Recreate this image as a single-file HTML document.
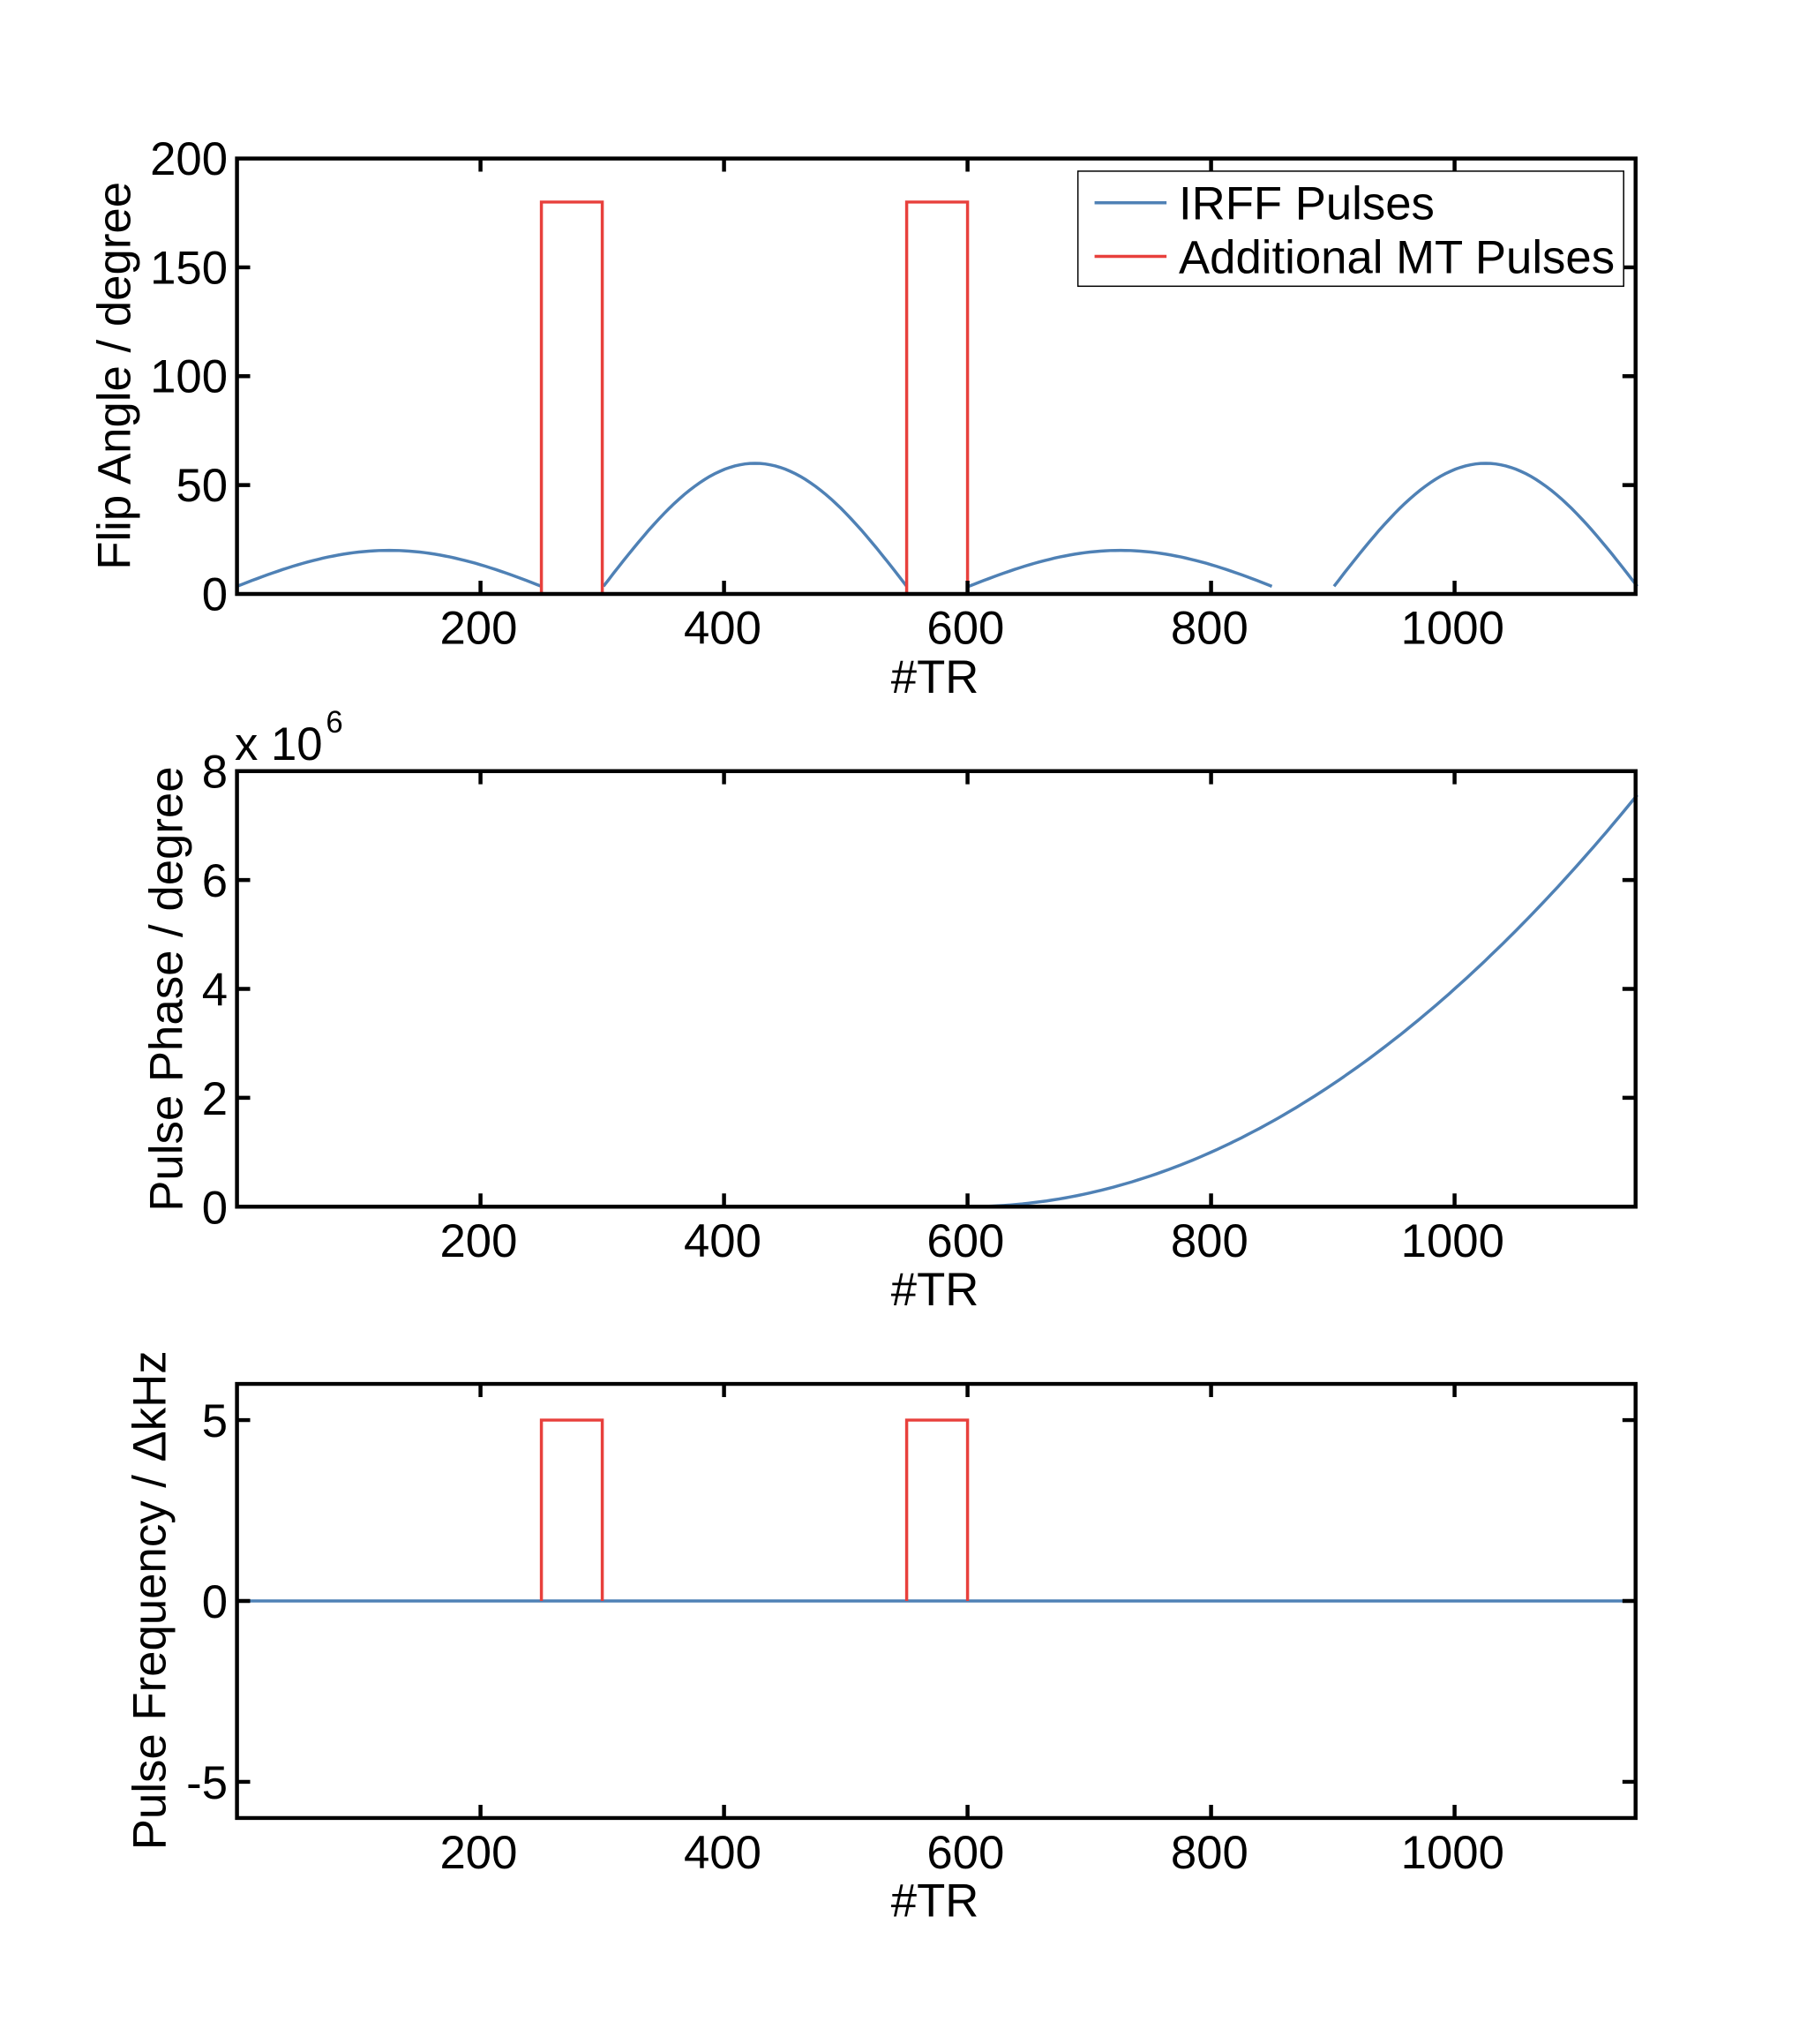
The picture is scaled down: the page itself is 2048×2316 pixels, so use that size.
<!DOCTYPE html>
<html><head><meta charset="utf-8"><style>
html,body{margin:0;padding:0;background:#fff}
svg{display:block}
text{font-family:"Liberation Sans",Arial,sans-serif;font-size:53px;fill:#000}
</style></head><body>
<svg id="s" width="2048" height="2316" viewBox="0 0 2048 2316" xmlns="http://www.w3.org/2000/svg">
<rect width="2048" height="2316" fill="#fff"/>
<g transform="translate(268.6,179.6) scale(0.99444,0.99531) translate(-268.6,-179.6)">
<g id="data" fill="none" stroke-width="3.5" stroke-linejoin="miter"></g>
<g id="axes" stroke="#000" stroke-width="4.5" fill="none"></g>
<g text-anchor="end">
<text x="258" y="694">0</text><text x="258" y="570">50</text><text x="258" y="446">100</text><text x="258" y="322">150</text><text x="258" y="198">200</text>
<text x="258" y="1392">0</text><text x="258" y="1268">2</text><text x="258" y="1144">4</text><text x="258" y="1020">6</text><text x="258" y="896">8</text>
<text x="258" y="2047">-5</text><text x="258" y="1841">0</text><text x="258" y="1635">5</text>
</g>
<g text-anchor="middle">
<text x="544" y="732">200</text><text x="822" y="732">400</text><text x="1099" y="732">600</text><text x="1377" y="732">800</text><text x="1654" y="732">1000</text>
<text x="1064" y="788">#TR</text>
<text x="544" y="1430">200</text><text x="822" y="1430">400</text><text x="1099" y="1430">600</text><text x="1377" y="1430">800</text><text x="1654" y="1430">1000</text>
<text x="1064" y="1485">#TR</text>
<text x="544" y="2126">200</text><text x="822" y="2126">400</text><text x="1099" y="2126">600</text><text x="1377" y="2126">800</text><text x="1654" y="2126">1000</text>
<text x="1064" y="2181">#TR</text>
<text transform="translate(147,427) rotate(-90)">Flip Angle / degree</text>
<text transform="translate(206,1125) rotate(-90)">Pulse Phase / degree</text>
<text transform="translate(187,1821) rotate(-90)">Pulse Frequency / ΔkHz</text>
</g>
<text x="266" y="864">x 10</text><text x="370" y="833" style="font-size:35px">6</text>
<rect x="1227" y="194" width="622" height="131" fill="#fff" stroke="#000" stroke-width="1.5"/>
<line x1="1246" y1="230" x2="1328" y2="230" stroke="#4f81b5" stroke-width="3.5"/>
<line x1="1246" y1="291" x2="1328" y2="291" stroke="#e8403c" stroke-width="3.5"/>
<text x="1342" y="249">IRFF Pulses</text>
<text x="1342" y="310">Additional MT Pulses</text>
</g>
</svg>
<script>
var L=268.6,R=1862.6,K=1.3877;
function X(v){return L+v*K;}
var panels=[[179.6,675.3],[877,1372.8],[1574.6,2068.8]];
var ax=document.getElementById('axes'),d=document.getElementById('data');
var NS='http://www.w3.org/2000/svg';
function path(g,dd,st){var p=document.createElementNS(NS,'path');p.setAttribute('d',dd);if(st)p.setAttribute('stroke',st);g.appendChild(p);}
var xt=[200,400,600,800,1000];
var yt=[[50,100,150],[2,4,6],[-5,0,5]];
var yf=[function(v){return 675.3-v*2.4785},function(v){return 1372.8-v*61.97},function(v){return 1821.7-v*41.18}];
panels.forEach(function(p,i){
 var s='M'+L+' '+p[0]+'H'+R+'V'+p[1]+'H'+L+'Z';
 xt.forEach(function(v){var x=X(v);s+='M'+x+' '+p[1]+'v-15M'+x+' '+p[0]+'v15';});
 yt[i].forEach(function(v){var y=yf[i](v);s+='M'+L+' '+y+'h15M'+R+' '+y+'h-15';});
 path(ax,s);
});
var B='#4f81b5',Rd='#e8403c';
function hump(x0,x1,A,v0){var dlt=Math.asin(v0/A);var s='';for(var i=0;i<=60;i++){var t=i/60;var x=x0+(x1-x0)*t;var v=A*Math.sin(dlt+(Math.PI-2*dlt)*t);s+=(i?'L':'M')+X(x).toFixed(1)+' '+yf[0](v).toFixed(1);}return s;}
path(d,hump(0,250,20,3.5)+hump(301,550,60,3.5)+hump(601,850,20,3.5)+hump(901,1150,60,3.5),B);
function rect(i,top){var y0=yf[i](0),y1=yf[i](top);return 'M'+X(250)+' '+y0+'V'+y1+'H'+X(300)+'V'+y0+'M'+X(550)+' '+y0+'V'+y1+'H'+X(600)+'V'+y0;}
path(d,rect(0,180),Rd);
var s='M'+X(0)+' '+yf[1](0)+'L'+X(600)+' '+yf[1](0);
for(var x=600;x<=1150;x+=5){var u=(x-600)/100;var v=0.25*u*u;s+='L'+X(x).toFixed(1)+' '+yf[1](v).toFixed(1);}
path(d,s,B);
path(d,'M'+L+' '+yf[2](0)+'H'+R,B);
path(d,rect(2,5),Rd);
</script>
</body></html>
